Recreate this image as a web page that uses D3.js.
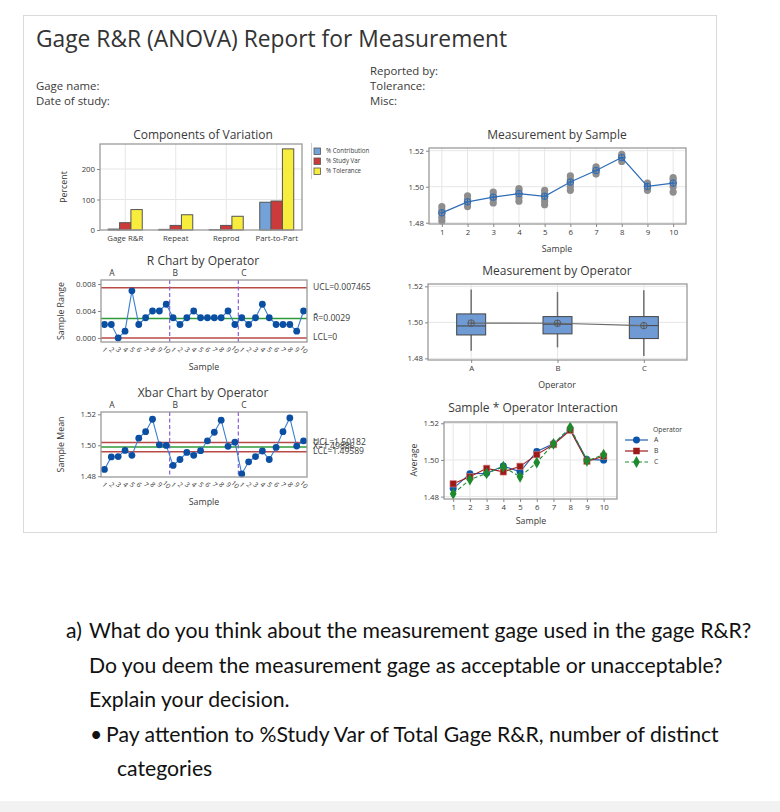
<!DOCTYPE html>
<html>
<head>
<meta charset="utf-8">
<script src="https://cdn.jsdelivr.net/npm/d3@7"></script>
<style>
html,body{margin:0;padding:0;background:#fff;}
svg{display:block;}
</style>
</head>
<body>
<svg id="chart" width="780" height="812"></svg>
<script>
// ---------------- data ----------------
const reportTitle = "Gage R&R (ANOVA) Report for Measurement";
const headerLeft = ["Gage name:", "Date of study:"];
const headerRight = ["Reported by:", "Tolerance:", "Misc:"];

const components = ["Gage R&R", "Repeat", "Reprod", "Part-to-Part"];
const componentSeries = ["% Contribution", "% Study Var", "% Tolerance"];
const pctContribution = [3, 2, 1, 91];
const pctStudyVar = [24, 15, 15, 95];
const pctTolerance = [67, 50, 45, 266];
const percentTicks = [0, 100, 200];

const operators = ["A", "B", "C"];
const samples = [1, 2, 3, 4, 5, 6, 7, 8, 9, 10];

const rangeA = [0.002, 0.002, 0.000, 0.001, 0.007, 0.002, 0.003, 0.004, 0.004, 0.005];
const rangeB = [0.003, 0.002, 0.003, 0.004, 0.003, 0.003, 0.003, 0.003, 0.004, 0.002];
const rangeC = [0.003, 0.002, 0.003, 0.005, 0.003, 0.002, 0.002, 0.002, 0.001, 0.004];
const rangeTicks = [0, 0.004, 0.008];
const rUCL = 0.007465, rBar = 0.0029, rLCL = 0;

const meanA = [1.4844, 1.4925, 1.4927, 1.4967, 1.4935, 1.5046, 1.5088, 1.5168, 1.5003, 1.4999];
const meanB = [1.4870, 1.4908, 1.4954, 1.4935, 1.4965, 1.5029, 1.5084, 1.5162, 1.4993, 1.5020];
const meanC = [1.4815, 1.4893, 1.4927, 1.4963, 1.4908, 1.4986, 1.5088, 1.5177, 1.4995, 1.5029];
const xUCL = 1.50182, xDoubleBar = 1.49886, xLCL = 1.49589;
const measureTicks = [1.48, 1.50, 1.52];

const sampleMeasurements = [
  [1.481, 1.483, 1.485, 1.487, 1.489],
  [1.489, 1.491, 1.493, 1.495],
  [1.491, 1.493, 1.495, 1.497],
  [1.492, 1.494, 1.496, 1.498, 1.499],
  [1.490, 1.492, 1.494, 1.496, 1.498],
  [1.498, 1.500, 1.502, 1.504, 1.506],
  [1.507, 1.508, 1.509, 1.510, 1.511],
  [1.514, 1.516, 1.517, 1.518],
  [1.498, 1.499, 1.500, 1.501, 1.502],
  [1.497, 1.500, 1.502, 1.504, 1.505]
];
const sampleMeans = [1.4855, 1.4916, 1.4942, 1.4962, 1.4947, 1.5026, 1.5090, 1.5162, 1.5002, 1.5020];

const boxLow = [1.4842, 1.4861, 1.4813];
const boxQ1 = [1.4930, 1.4936, 1.4910];
const boxMedian = [1.4980, 1.4990, 1.4982];
const boxQ3 = [1.5047, 1.5032, 1.5032];
const boxHigh = [1.5182, 1.5169, 1.5178];
const operatorMeans = [1.4996, 1.4995, 1.4982];

const questionLabel = "a)";
const questionLines = [
  "What do you think about the measurement gage used in the gage R&R?",
  "Do you deem the measurement gage as acceptable or unacceptable?",
  "Explain your decision."
];
const bulletLines = ["Pay attention to %Study Var of Total Gage R&R, number of distinct", "categories"];

// ---------------- helpers ----------------
const UI = "'Open Sans','Noto Sans','DejaVu Sans',sans-serif";
const BODY = "Lato,'Liberation Sans',sans-serif";
const TXT = "#3a3a3a";
const FRAME = "#9a9a9a";
const GRID = "#e6e6e6";
const svg = d3.select("#chart");

function T(g, x, y, s, size, o = {}) {
  return g.append("text").attr("x", x).attr("y", y)
    .attr("font-family", o.font || UI).attr("font-size", size)
    .attr("fill", o.fill || TXT).attr("text-anchor", o.anchor || "start")
    .attr("dominant-baseline", o.base || "middle").text(s);
}
function VT(g, x, y, s, size) {
  return T(g, 0, 0, s, size, {anchor: "middle"}).attr("transform", `translate(${x},${y}) rotate(-90)`);
}
function plotBg(g, x0, y0, x1, y1) {
  g.append("rect").attr("x", x0).attr("y", y0).attr("width", x1 - x0).attr("height", y1 - y0).attr("fill", "#fff");
}
function frame(g, x0, y0, x1, y1) {
  g.append("rect").attr("x", x0).attr("y", y0).attr("width", x1 - x0).attr("height", y1 - y0)
    .attr("fill", "none").attr("stroke", FRAME).attr("stroke-width", 1.3);
}
function hgrid(g, y, vals, x0, x1) {
  g.append("g").selectAll("line").data(vals).join("line")
    .attr("x1", x0).attr("x2", x1).attr("y1", d => y(d)).attr("y2", d => y(d))
    .attr("stroke", GRID).attr("stroke-width", 1);
}
function vgrid(g, xs, y0, y1) {
  g.append("g").selectAll("line").data(xs).join("line")
    .attr("x1", d => d).attr("x2", d => d).attr("y1", y0).attr("y2", y1)
    .attr("stroke", GRID).attr("stroke-width", 1);
}
function leftAxis(g, y, x, ticks, fmt) {
  const a = g.append("g").attr("transform", `translate(${x},0)`)
    .call(d3.axisLeft(y).tickValues(ticks).tickSize(3).tickPadding(2).tickFormat(fmt));
  a.select(".domain").remove();
  a.selectAll("line").attr("stroke", "#888");
  a.selectAll("text").attr("font-family", UI).attr("font-size", 7.8).attr("fill", TXT);
}
function bottomAxis(g, x, y, ticks, fmt) {
  const a = g.append("g").attr("transform", `translate(0,${y})`)
    .call(d3.axisBottom(x).tickValues(ticks).tickSize(3).tickPadding(2).tickFormat(fmt));
  a.select(".domain").remove();
  a.selectAll("line").attr("stroke", "#888");
  a.selectAll("text").attr("font-family", UI).attr("font-size", 7.8).attr("fill", TXT);
}
function circlePlus(g, cx, cy, r, color) {
  g.append("circle").attr("cx", cx).attr("cy", cy).attr("r", r).attr("fill", "none").attr("stroke", color).attr("stroke-width", 1);
  g.append("line").attr("x1", cx - r).attr("x2", cx + r).attr("y1", cy).attr("y2", cy).attr("stroke", color).attr("stroke-width", 1);
  g.append("line").attr("x1", cx).attr("x2", cx).attr("y1", cy - r).attr("y2", cy + r).attr("stroke", color).attr("stroke-width", 1);
}

// ---------------- page ----------------
svg.append("rect").attr("width", 780).attr("height", 812).attr("fill", "#fff");
svg.append("rect").attr("x", 0).attr("y", 801).attr("width", 780).attr("height", 11).attr("fill", "#f2f2f2");
svg.append("rect").attr("x", 23.5).attr("y", 15.5).attr("width", 693).attr("height", 517)
  .attr("fill", "#fff").attr("stroke", "#dadada").attr("stroke-width", 1);

// header
const hdr = svg.append("g");
T(hdr, 36, 41, reportTitle, 22.8, {fill: "#333"});
headerLeft.forEach((s, i) => T(hdr, 36, 87 + i * 15, s, 11.4));
headerRight.forEach((s, i) => T(hdr, 370, 72 + i * 15, s, 11.4));

// ---------------- Components of Variation ----------------
{
  const g = svg.append("g");
  const x0 = 100, x1 = 302, y0 = 144, y1 = 230;
  const x = d3.scaleBand().domain(components).range([x0, x1]);
  const sub = d3.scaleBand().domain(componentSeries).range([0, 34]);
  const y = d3.scaleLinear().domain([0, 282]).range([y1, y0]);
  const colors = d3.scaleOrdinal().domain(componentSeries).range(["#74a2d8", "#cc3b3b", "#f8ec3c"]);
  const seriesValues = [pctContribution, pctStudyVar, pctTolerance];
  plotBg(g, x0, y0, x1, y1);
  vgrid(g, components.map(c => x(c) + x.bandwidth() / 2), y0, y1);
  hgrid(g, y, [100, 200], x0, x1);
  const rows = components.flatMap((c, i) => componentSeries.map((s, j) => ({c, s, v: seriesValues[j][i]})));
  g.append("g").selectAll("rect").data(rows).join("rect")
    .attr("x", d => x(d.c) + (x.bandwidth() - 34) / 2 + sub(d.s))
    .attr("width", sub.bandwidth())
    .attr("y", d => y(d.v)).attr("height", d => y(0) - y(d.v))
    .attr("fill", d => colors(d.s)).attr("stroke", "#555").attr("stroke-width", 1);
  frame(g, x0, y0, x1, y1);
  leftAxis(g, y, x0, percentTicks, d3.format("d"));
  components.forEach(c => T(g, x(c) + x.bandwidth() / 2, 239, c, 7.8, {anchor: "middle"}));
  T(g, 203, 136, "Components of Variation", 12, {anchor: "middle"});
  VT(g, 65, 187, "Percent", 8.8);
  // legend
  g.append("line").attr("x1", 311.5).attr("x2", 311.5).attr("y1", 143).attr("y2", 179).attr("stroke", "#cfcfcf");
  componentSeries.forEach((s, i) => {
    g.append("rect").attr("x", 314).attr("y", 148 + i * 10).attr("width", 6.5).attr("height", 6.5)
      .attr("fill", colors(s)).attr("stroke", "#555").attr("stroke-width", 0.8);
    T(g, 326, 151.5 + i * 10, s, 6.2);
  });
}

// ---------------- R chart & Xbar chart ----------------
function controlChart(opts) {
  const g = svg.append("g");
  const x0 = 101, x1 = 307;
  const {y0, y1, domain, values, ticks, fmt, refs, title, ylabel, refLabels} = opts;
  const x = d3.scaleLinear().domain([0.5, 30.5]).range([x0, x1]);
  const y = d3.scaleLinear().domain(domain).range([y1, y0]);
  plotBg(g, x0, y0, x1, y1);
  refs.forEach(r => g.append("line").attr("x1", x0).attr("x2", x1).attr("y1", y(r.v)).attr("y2", y(r.v))
    .attr("stroke", r.c).attr("stroke-width", 1.5));
  [10.5, 20.5].forEach(v => g.append("line").attr("x1", x(v)).attr("x2", x(v)).attr("y1", y0).attr("y2", y1)
    .attr("stroke", "#8a5fd6").attr("stroke-width", 1.2).attr("stroke-dasharray", "4,2.5"));
  const line = d3.line().x((d, i) => x(i + 1)).y(d => y(d));
  g.append("path").datum(values).attr("d", line).attr("fill", "none").attr("stroke", "#3b7fd0").attr("stroke-width", 1.1);
  g.append("g").selectAll("circle").data(values).join("circle")
    .attr("cx", (d, i) => x(i + 1)).attr("cy", d => y(d)).attr("r", 3.4).attr("fill", "#0b4fa3");
  frame(g, x0, y0, x1, y1);
  leftAxis(g, y, x0, ticks, fmt);
  values.forEach((d, i) => {
    const lbl = samples[i % 10];
    T(g, 0, 0, String(lbl), 6.8, {anchor: "middle"}).attr("transform", `translate(${x(i + 1)},${y1 + 8}) rotate(45)`);
  });
  operators.forEach((o, k) => T(g, x([2.1, 11.3, 21.3][k]), y0 - 6, o, 8.5, {anchor: "middle"}));
  T(g, 203, y0 - 18, title, 12, {anchor: "middle"});
  T(g, 204, y1 + 26, "Sample", 8.8, {anchor: "middle"});
  VT(g, 62, (y0 + y1) / 2, ylabel, 8.8);
  refLabels.forEach(r => T(g, 313, y(r.v), r.t, 8.6));
}

controlChart({
  y0: 280, y1: 342, domain: [-0.0006, 0.0086],
  values: [...rangeA, ...rangeB, ...rangeC],
  ticks: rangeTicks, fmt: d3.format(".3f"),
  refs: [{v: rUCL, c: "#b84a48"}, {v: rLCL, c: "#b84a48"}, {v: rBar, c: "#2f9a3a"}],
  title: "R Chart by Operator", ylabel: "Sample Range",
  refLabels: [{v: rUCL, t: "UCL=" + rUCL}, {v: rBar, t: "R\u0304=" + rBar}, {v: rLCL, t: "LCL=" + rLCL}]
});

controlChart({
  y0: 412, y1: 477, domain: [1.4795, 1.5215],
  values: [...meanA, ...meanB, ...meanC],
  ticks: measureTicks, fmt: d3.format(".2f"),
  refs: [{v: xUCL, c: "#b84a48"}, {v: xLCL, c: "#b84a48"}, {v: xDoubleBar, c: "#2f9a3a"}],
  title: "Xbar Chart by Operator", ylabel: "Sample Mean",
  refLabels: [{v: xUCL, t: "UCL=" + xUCL}, {v: xDoubleBar, t: "X\u033F=" + xDoubleBar}, {v: xLCL, t: "LCL=" + xLCL}]
});

// ---------------- Measurement by Sample ----------------
{
  const g = svg.append("g");
  const x0 = 429, x1 = 686, y0 = 148, y1 = 224;
  const x = d3.scaleLinear().domain([0.5, 10.5]).range([x0, x1]);
  const y = d3.scaleLinear().domain([1.4793, 1.5215]).range([y1, y0]);
  plotBg(g, x0, y0, x1, y1);
  vgrid(g, samples.map(s => x(s)), y0, y1);
  hgrid(g, y, measureTicks, x0, x1);
  const pts = sampleMeasurements.flatMap((arr, i) => arr.map(v => ({s: samples[i], v})));
  g.append("g").selectAll("circle").data(pts).join("circle")
    .attr("cx", d => x(d.s)).attr("cy", d => y(d.v)).attr("r", 3.6).attr("fill", "#8e8e8e");
  g.append("path").datum(sampleMeans).attr("d", d3.line().x((d, i) => x(samples[i])).y(d => y(d)))
    .attr("fill", "none").attr("stroke", "#2e6db7").attr("stroke-width", 1.2);
  sampleMeans.forEach((m, i) => circlePlus(g, x(samples[i]), y(m), 3.3, "#2e6db7"));
  frame(g, x0, y0, x1, y1);
  leftAxis(g, y, x0, measureTicks, d3.format(".2f"));
  bottomAxis(g, x, y1, samples, d3.format("d"));
  T(g, 557, 136, "Measurement by Sample", 12, {anchor: "middle"});
  T(g, 557, 250, "Sample", 8.8, {anchor: "middle"});
}

// ---------------- Measurement by Operator ----------------
{
  const g = svg.append("g");
  const x0 = 428, x1 = 687, y0 = 284, y1 = 360;
  const x = d3.scalePoint().domain(operators).range([x0, x1]).padding(0.5);
  const y = d3.scaleLinear().domain([1.4791, 1.5213]).range([y1, y0]);
  const bw = 29;
  plotBg(g, x0, y0, x1, y1);
  vgrid(g, operators.map(o => x(o)), y0, y1);
  hgrid(g, y, measureTicks, x0, x1);
  operators.forEach((o, i) => {
    const cx = x(o);
    g.append("line").attr("x1", cx).attr("x2", cx).attr("y1", y(boxHigh[i])).attr("y2", y(boxQ3[i])).attr("stroke", "#6f6f6f").attr("stroke-width", 1.5);
    g.append("line").attr("x1", cx).attr("x2", cx).attr("y1", y(boxQ1[i])).attr("y2", y(boxLow[i])).attr("stroke", "#6f6f6f").attr("stroke-width", 1.5);
    g.append("rect").attr("x", cx - bw / 2).attr("y", y(boxQ3[i])).attr("width", bw).attr("height", y(boxQ1[i]) - y(boxQ3[i]))
      .attr("fill", "#6f9ad3").attr("stroke", "#454545").attr("stroke-width", 1);
    g.append("line").attr("x1", cx - bw / 2).attr("x2", cx + bw / 2).attr("y1", y(boxMedian[i])).attr("y2", y(boxMedian[i])).attr("stroke", "#454545").attr("stroke-width", 1);
  });
  g.append("path").datum(operatorMeans).attr("d", d3.line().x((d, i) => x(operators[i])).y(d => y(d)))
    .attr("fill", "none").attr("stroke", "#6a6a6a").attr("stroke-width", 1.1);
  operatorMeans.forEach((m, i) => circlePlus(g, x(operators[i]), y(m), 3.3, "#5a5a5a"));
  frame(g, x0, y0, x1, y1);
  leftAxis(g, y, x0, measureTicks, d3.format(".2f"));
  bottomAxis(g, x, y1, operators, d => d);
  T(g, 557, 272, "Measurement by Operator", 12, {anchor: "middle"});
  T(g, 557, 386, "Operator", 8.8, {anchor: "middle"});
}

// ---------------- Sample * Operator Interaction ----------------
{
  const g = svg.append("g");
  const x0 = 444, x1 = 617, y0 = 422, y1 = 499;
  const x = d3.scaleLinear().domain([0.45, 10.8]).range([x0, x1]);
  const y = d3.scaleLinear().domain([1.4787, 1.5207]).range([y1, y0]);
  plotBg(g, x0, y0, x1, y1);
  vgrid(g, samples.map(s => x(s)), y0, y1);
  hgrid(g, y, measureTicks, x0, x1);
  const series = [
    {name: "A", vals: meanA, color: "#1f5fb0", fill: "#0c55a8", dash: null, sym: d3.symbolCircle, size: 38},
    {name: "B", vals: meanB, color: "#a01c1c", fill: "#9b1b1b", dash: null, sym: d3.symbolSquare, size: 42},
    {name: "C", vals: meanC, color: "#1f8d30", fill: "#1d8a2e", dash: "4,2.5", sym: d3.symbolDiamond, size: 40}
  ];
  series.forEach(s => {
    g.append("path").datum(s.vals).attr("d", d3.line().x((d, i) => x(samples[i])).y(d => y(d)))
      .attr("fill", "none").attr("stroke", s.color).attr("stroke-width", 1.1).attr("stroke-dasharray", s.dash);
    g.append("g").selectAll("path").data(s.vals).join("path")
      .attr("transform", (d, i) => `translate(${x(samples[i])},${y(d)})`)
      .attr("d", d3.symbol().type(s.sym).size(s.size)).attr("fill", s.fill)
      .attr("stroke", s.name === "B" ? "#d98c8c" : "none").attr("stroke-width", 0.6);
  });
  frame(g, x0, y0, x1, y1);
  leftAxis(g, y, x0, measureTicks, d3.format(".2f"));
  bottomAxis(g, x, y1, samples, d3.format("d"));
  T(g, 533, 409, "Sample * Operator Interaction", 12, {anchor: "middle"});
  T(g, 531, 522, "Sample", 8.8, {anchor: "middle"});
  VT(g, 415, 460, "Average", 8.8);
  // legend
  T(g, 653, 430, "Operator", 6.8);
  series.forEach((s, i) => {
    const ly = 440 + i * 11;
    g.append("line").attr("x1", 625).attr("x2", 648).attr("y1", ly).attr("y2", ly)
      .attr("stroke", s.color).attr("stroke-width", 1.2).attr("stroke-dasharray", s.dash);
    g.append("path").attr("transform", `translate(636.5,${ly})`).attr("d", d3.symbol().type(s.sym).size(s.size)).attr("fill", s.fill);
    T(g, 654, ly, s.name, 6.8);
  });
}

// ---------------- question text ----------------
{
  const g = svg.append("g");
  const fs = 21.2;
  const lineY = [633, 667.5, 702, 736.5, 771];
  const o = {font: BODY, fill: "#111"};
  T(g, 66, lineY[0], questionLabel, fs, o);
  questionLines.forEach((s, i) => T(g, 89, lineY[i], s, fs, o));
  T(g, 90, lineY[3], "\u2022", fs, o);
  T(g, 106, lineY[3], bulletLines[0], fs, o);
  T(g, 117, lineY[4], bulletLines[1], fs, o);
}
</script>
</body>
</html>
